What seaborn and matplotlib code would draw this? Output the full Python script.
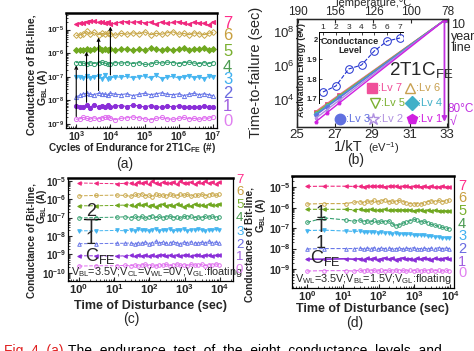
import numpy as np
import pandas as pd
import matplotlib
matplotlib.use("Agg")
import matplotlib.pyplot as plt
import seaborn as sns
from matplotlib.ticker import LogLocator, NullFormatter, FixedLocator

# ---------------- data ----------------
levels = [0, 1, 2, 3, 4, 5, 6, 7]
level_colors = ['#e070f0', '#8a2ed8', '#6a78e8', '#45b5f0', '#35a070', '#70a820', '#c9a84a', '#f0287f']
label_colors = ['#e080f0', '#a060e0', '#6a6ae0', '#40b0f0', '#4a9a50', '#7ab030', '#c8a040', '#ff2d8a']

# (a) endurance: log10(G_BL) per level vs cycles
cycles = [1e3, 1.3e3, 1.6e3, 2e3, 2.5e3, 3.2e3, 4.5e3, 5.5e3, 7e3, 8.5e3, 1e4, 1.4e4, 2e4, 3e4, 4.5e4,
          7e4, 1e5, 1.5e5, 2.2e5, 3.2e5, 4.5e5, 7e5, 1e6, 1.4e6, 2e6, 2.8e6, 4e6, 5.5e6, 7.5e6, 1e7]
endur_7 = [-4.75, -4.74, -4.72, -4.66, -4.62, -4.65, -4.70, -4.68, -4.72, -4.66, -4.76, -4.74, -4.68, -4.66, -4.70,
           -4.66, -4.72, -4.68, -4.78, -4.66, -4.74, -4.70, -4.66, -4.72, -4.78, -4.68, -4.72, -4.74, -4.80, -4.66]
endur_6 = [-5.25, -5.22, -5.18, -5.08, -5.20, -5.12, -5.22, -5.16, -5.20, -5.14, -5.18, -5.24, -5.16, -5.20, -5.14,
           -5.18, -5.10, -5.22, -5.16, -5.20, -5.14, -5.10, -5.20, -5.16, -5.22, -5.14, -5.18, -5.22, -5.16, -5.12]
endur_5 = [-5.88, -5.86, -5.85, -5.82, -5.86, -5.84, -5.80, -5.86, -5.82, -5.88, -5.84, -5.86, -5.84, -5.82, -5.86,
           -5.84, -5.86, -5.80, -5.84, -5.86, -5.82, -5.86, -5.84, -5.80, -5.86, -5.82, -5.84, -5.80, -5.86, -5.82]
endur_4 = [-6.40, -6.40, -6.42, -6.46, -6.40, -6.44, -6.40, -6.38, -6.42, -6.48, -6.44, -6.40, -6.42, -6.40, -6.44,
           -6.40, -6.48, -6.46, -6.38, -6.42, -6.38, -6.40, -6.44, -6.40, -6.38, -6.42, -6.44, -6.40, -6.44, -6.40]
endur_3 = [-7.02, -7.00, -7.04, -6.98, -7.06, -7.02, -6.96, -7.08, -6.94, -7.10, -7.04, -7.00, -7.02, -6.98, -7.04,
           -7.00, -6.96, -7.06, -6.94, -7.08, -7.02, -6.98, -7.06, -7.00, -6.96, -7.04, -7.00, -7.08, -6.98, -7.02]
endur_2 = [-7.85, -7.78, -7.72, -7.70, -7.74, -7.76, -7.70, -7.72, -7.74, -7.78, -7.70, -7.74, -7.76, -7.72, -7.80,
           -7.74, -7.70, -7.76, -7.72, -7.68, -7.74, -7.76, -7.72, -7.80, -7.74, -7.70, -7.76, -7.72, -7.76, -7.80]
endur_1 = [-8.22, -8.26, -8.28, -8.20, -8.32, -8.18, -8.28, -8.22, -8.30, -8.20, -8.26, -8.24, -8.22, -8.26, -8.20,
           -8.24, -8.28, -8.22, -8.26, -8.30, -8.24, -8.28, -8.22, -8.26, -8.30, -8.26, -8.28, -8.24, -8.28, -8.26]
endur_0 = [-8.80, -8.78, -8.72, -8.76, -8.80, -8.74, -8.78, -8.74, -8.72, -8.70, -8.74, -8.82, -8.76, -8.74, -8.70,
           -8.74, -8.78, -8.82, -8.76, -8.72, -8.78, -8.80, -8.76, -8.72, -8.78, -8.76, -8.80, -8.74, -8.76, -8.70]
endur = [endur_0, endur_1, endur_2, endur_3, endur_4, endur_5, endur_6, endur_7]
step_idx = [0, 3, 6, 10]        # cycles index where level is programmed
step_from = [0, 1, 2, 3]
step_to = [4, 5, 6, 7]

# (b) retention: log10(time-to-failure) vs 1/kT
inv_kT = [26.0, 26.6, 27.25, 32.9]
ttf_lv = [7, 6, 5, 4, 3, 2, 1]
ttf = {7: [3.32, 3.79, 4.30, 8.72], 6: [3.27, 3.74, 4.26, 8.72], 5: [3.22, 3.70, 4.22, 8.72],
       4: [3.17, 3.65, 4.18, 8.72], 3: [3.10, 3.59, 4.12, 8.72], 2: [2.92, 3.43, 3.98, 8.72],
       1: [2.72, 3.25, 3.82, 8.72]}
b_colors = {7: '#f0509a', 6: '#c8a050', 5: '#7ab030', 4: '#40b0c8', 3: '#6070e0', 2: '#b090e0', 1: '#d020e0'}
b_markers = {7: 's', 6: '^', 5: 'v', 4: 'D', 3: 'o', 2: '*', 1: 'p'}
b_filled = {7: True, 6: False, 5: False, 4: True, 3: True, 2: False, 1: True}
temps_c = [190, 156, 126, 100, 78]
ea_level = [1, 2, 3, 4, 5, 6, 7]
ea_value = [1.735, 1.765, 1.85, 1.87, 1.94, 1.99, 2.005]
k_B = 8.617e-5

# (c) disturbance V_BL=3.5V, (d) disturbance V_WL=3.5V
t_dist = [1, 3, 12, 20, 30, 38, 48, 60, 75, 95, 120, 150, 190, 240, 300, 380, 480, 600, 750, 950,
          1200, 1500, 1900, 2400, 3000, 3800, 4800, 6000, 7600, 9500]
dc_7 = [-5.12, -5.14, -5.16, -5.14, -5.10, -5.18, -5.06, -5.14, -5.08, -5.16, -5.04, -5.12, -5.18, -5.06, -5.10,
        -5.14, -5.08, -5.16, -5.04, -5.10, -5.14, -5.06, -5.18, -5.08, -5.12, -5.04, -5.14, -5.08, -5.16, -5.06]
dc_6 = [-5.82, -5.80, -5.78, -5.80, -5.84, -5.74, -5.80, -5.70, -5.82, -5.76, -5.86, -5.72, -5.80, -5.76, -5.84,
        -5.72, -5.78, -5.82, -5.70, -5.80, -5.74, -5.84, -5.76, -5.80, -5.72, -5.82, -5.76, -5.70, -5.80, -5.74]
dc_5 = [-6.36, -6.36, -6.34, -6.32, -6.30, -6.38, -6.26, -6.34, -6.28, -6.36, -6.30, -6.40, -6.32, -6.26, -6.36,
        -6.30, -6.38, -6.28, -6.34, -6.40, -6.30, -6.36, -6.26, -6.34, -6.30, -6.38, -6.28, -6.34, -6.30, -6.26]
dc_4 = [-7.02, -7.00, -6.98, -6.96, -7.00, -6.92, -7.02, -6.94, -7.04, -6.96, -6.90, -7.00, -6.94, -7.02, -6.96,
        -6.92, -7.00, -6.96, -7.04, -6.94, -6.98, -6.92, -7.00, -6.96, -7.02, -6.94, -6.98, -6.92, -7.00, -6.96]
dc_3 = [-7.72, -7.72, -7.70, -7.72, -7.68, -7.74, -7.64, -7.70, -7.66, -7.74, -7.68, -7.62, -7.72, -7.66, -7.70,
        -7.64, -7.74, -7.68, -7.70, -7.64, -7.72, -7.66, -7.70, -7.62, -7.68, -7.74, -7.66, -7.70, -7.64, -7.68]
dc_2 = [-8.42, -8.42, -8.40, -8.40, -8.38, -8.44, -8.36, -8.40, -8.32, -8.42, -8.36, -8.30, -8.38, -8.34, -8.40,
        -8.36, -8.32, -8.38, -8.42, -8.34, -8.38, -8.32, -8.36, -8.40, -8.34, -8.38, -8.30, -8.36, -8.34, -8.38]
dc_1 = [-9.08, -9.08, -9.10, -9.08, -9.06, -9.10, -9.04, -9.08, -9.06, -9.10, -9.04, -9.08, -9.06, -9.02, -9.08,
        -9.06, -9.10, -9.04, -9.08, -9.06, -9.02, -9.08, -9.06, -9.04, -9.08, -9.04, -9.06, -9.08, -9.04, -9.06]
dc_0 = [-9.64, -9.62, -9.62, -9.60, -9.62, -9.56, -9.64, -9.58, -9.54, -9.62, -9.58, -9.64, -9.56, -9.60, -9.54,
        -9.62, -9.58, -9.52, -9.60, -9.56, -9.62, -9.54, -9.58, -9.60, -9.54, -9.62, -9.56, -9.58, -9.52, -9.58]
dist_c = [dc_0, dc_1, dc_2, dc_3, dc_4, dc_5, dc_6, dc_7]

dd_7 = [-4.96, -4.95, -4.95, -4.96, -4.95, -4.97, -4.95, -4.96, -4.94, -4.96, -4.95, -4.97, -4.95, -4.96, -4.95,
        -4.97, -4.96, -4.95, -4.97, -4.96, -4.95, -4.97, -4.96, -4.98, -4.96, -4.97, -4.98, -4.96, -4.98, -4.97]
dd_6 = [-5.82, -5.80, -5.80, -5.74, -5.70, -5.76, -5.66, -5.74, -5.64, -5.72, -5.68, -5.60, -5.72, -5.66, -5.74,
        -5.64, -5.70, -5.76, -5.80, -5.82, -5.80, -5.82, -5.78, -5.70, -5.66, -5.72, -5.64, -5.70, -5.66, -5.62]
dd_5 = [-6.08, -6.08, -6.08, -6.10, -6.08, -6.10, -6.12, -6.08, -6.10, -6.12, -6.10, -6.08, -6.12, -6.10, -6.10,
        -6.12, -6.10, -6.12, -6.10, -6.14, -6.12, -6.12, -6.14, -6.12, -6.14, -6.12, -6.14, -6.16, -6.14, -6.16]
dd_4 = [-6.72, -6.50, -6.60, -6.66, -6.60, -6.68, -6.64, -6.70, -6.62, -6.72, -6.66, -6.70, -6.64, -6.78, -6.90,
        -6.84, -6.76, -6.70, -6.64, -6.56, -6.62, -6.70, -6.66, -6.74, -6.82, -6.86, -6.92, -6.96, -7.00, -7.02]
dd_3 = [-7.12, -7.10, -7.14, -7.16, -7.15, -7.19, -7.17, -7.21, -7.19, -7.23, -7.21, -7.25, -7.23, -7.27, -7.25,
        -7.29, -7.27, -7.31, -7.29, -7.33, -7.33, -7.35, -7.35, -7.39, -7.39, -7.43, -7.43, -7.47, -7.47, -7.50]
dd_2 = [-8.02, -8.00, -8.00, -8.00, -7.98, -8.02, -7.98, -8.00, -7.96, -8.02, -7.98, -8.00, -7.96, -8.02, -8.00,
        -7.98, -8.02, -7.98, -8.00, -7.96, -8.02, -8.00, -7.98, -8.02, -7.98, -8.00, -7.96, -8.00, -7.98, -8.00]
dd_1 = [-8.52, -8.52, -8.50, -8.52, -8.50, -8.54, -8.48, -8.52, -8.48, -8.54, -8.50, -8.46, -8.52, -8.48, -8.54,
        -8.50, -8.46, -8.52, -8.50, -8.54, -8.48, -8.52, -8.46, -8.50, -8.54, -8.48, -8.52, -8.50, -8.46, -8.52]
dd_0 = [-9.10, -9.08, -9.08, -9.10, -9.06, -9.10, -9.04, -9.08, -9.06, -9.10, -9.04, -9.08, -9.06, -9.10, -9.04,
        -9.08, -9.06, -9.10, -9.06, -9.08, -9.04, -9.10, -9.06, -9.08, -9.04, -9.08, -9.06, -9.10, -9.06, -9.08]
dist_d = [dd_0, dd_1, dd_2, dd_3, dd_4, dd_5, dd_6, dd_7]

# marker styles per level (0..7)
a_markers = ['o', 'o', '^', 'v', 'o', 'D', 'D', '<']
a_filled = [False, True, False, True, False, True, False, True]
cd_markers = ['o', '<', '^', 'v', 'o', '<', 'o', '<']
cd_filled = [False, True, False, True, False, True, False, True]
d_linestyles = ['--', '-', '--', '--', '--', '--', '--', '--']

# ---------------- style ----------------
sns.set_theme(style="ticks")
plt.rcParams['font.family'] = ['Liberation Sans', 'DejaVu Sans']
plt.rcParams['mathtext.fontset'] = 'custom'
plt.rcParams['mathtext.rm'] = 'Liberation Sans'
plt.rcParams['mathtext.default'] = 'regular'
plt.rcParams['xtick.direction'] = 'in'
plt.rcParams['ytick.direction'] = 'in'
plt.rcParams['axes.linewidth'] = 0.9

W, H = 474, 351
fig = plt.figure(figsize=(W / 100, H / 100), dpi=100)
fig.patch.set_facecolor('white')


def px_axes(l, t, r, b):
    return fig.add_axes([l / W, 1 - b / H, (r - l) / W, (b - t) / H])


def ftext(x, y, s, **kw):
    return fig.text(x / W, 1 - y / H, s, **kw)


def series(ax, x, y, color, marker, filled, ls='-', ms=3.0, lw=0.8):
    sns.lineplot(x=x, y=y, ax=ax, color=color, linestyle=ls, lw=lw, marker=marker, markersize=ms,
                 markerfacecolor=color if filled else 'none', markeredgecolor=color,
                 markeredgewidth=0.7, estimator=None, sort=False)


def log_axes(ax, xl, yl, xt, yt, xfs, yfs):
    ax.set_xscale('log')
    ax.set_yscale('log')
    ax.set_xlim(10.0 ** xl[0], 10.0 ** xl[1])
    ax.set_ylim(10.0 ** yl[0], 10.0 ** yl[1])
    ax.xaxis.set_major_locator(FixedLocator([10.0 ** e for e in xt]))
    ax.yaxis.set_major_locator(FixedLocator([10.0 ** e for e in yt]))
    ax.xaxis.set_minor_locator(LogLocator(base=10, subs=np.arange(2, 10), numticks=30))
    ax.yaxis.set_minor_locator(LogLocator(base=10, subs=np.arange(2, 10), numticks=30))
    ax.xaxis.set_minor_formatter(NullFormatter())
    ax.yaxis.set_minor_formatter(NullFormatter())
    ax.set_xticklabels([f'10$^{{{e}}}$' for e in xt], fontsize=xfs, fontweight='bold')
    ax.set_yticklabels([f'10$^{{{e}}}$' for e in yt], fontsize=yfs, fontweight='bold')
    ax.tick_params(which='major', length=3, width=0.8, pad=1.2)
    ax.tick_params(which='minor', length=1.5, width=0.6)
    ax.spines['top'].set_linewidth(1.8)
    for s in ['left', 'right', 'bottom', 'top']:
        ax.spines[s].set_color('black')


def level_labels(x, ys, fs):
    for lv, y in zip(levels, ys):
        ftext(x, y, str(lv), color=label_colors[lv], fontsize=fs, ha='left', va='center')


# ---------------- (a) ----------------
axa = px_axes(66, 13, 217, 128)
for lv in levels:
    series(axa, cycles, 10.0 ** np.array(endur[lv]), level_colors[lv], a_markers[lv], a_filled[lv], ms=3.0)
for i, f, t in zip(step_idx, step_from, step_to):
    axa.annotate('', xy=(cycles[i], 10.0 ** endur[t][i]), xytext=(cycles[i], 10.0 ** endur[f][i]),
                 arrowprops=dict(arrowstyle='->', color='black', lw=0.8, mutation_scale=5))
log_axes(axa, (2.7, 7.12), (-9.17, -4.3), [3, 4, 5, 6, 7], [-9, -8, -7, -6, -5], 7.5, 5.8)
axa.tick_params(axis='x', which='major', pad=0.8)
level_labels(223, [121, 107, 94, 80, 67, 52, 35, 23], 12)
ftext(32, 75, 'Conductance of Bit-line,', rotation=90, fontsize=7.6, fontweight='bold', ha='center', va='center')
ftext(43, 87, 'G$_{BL}$ (A)', rotation=90, fontsize=7.6, fontweight='bold', ha='center', va='center')
ftext(132, 148, 'Cycles of Endurance for 2T1C$_{FE}$ (#)', fontsize=7.2, fontweight='bold', ha='center', va='center')
ftext(125, 164, '(a)', fontsize=10, ha='center', va='center')

# ---------------- (b) ----------------
axb = px_axes(297, 19, 448, 127)
for lv in ttf_lv:
    series(axb, inv_kT, 10.0 ** np.array(ttf[lv]), b_colors[lv], b_markers[lv], b_filled[lv], ms=2.5, lw=1.0)
axb.set_yscale('log')
axb.set_xlim(25.1, 33.05)
axb.set_ylim(10 ** 2.41, 10 ** 8.76)
axb.set_xticks([25, 27, 29, 31, 33])
axb.set_xticklabels(['25', '27', '29', '31', '33'], fontsize=9.5)
axb.yaxis.set_major_locator(FixedLocator([1e4, 1e6, 1e8]))
axb.yaxis.set_minor_locator(FixedLocator([]))
axb.set_yticklabels(['10$^{4}$', '10$^{6}$', '10$^{8}$'], fontsize=9.5)
axb.tick_params(which='major', length=3, width=0.8, pad=1.5)
for s in ['left', 'right', 'bottom', 'top']:
    axb.spines[s].set_color('black')
# top temperature axis
axt = axb.twiny()
axt.set_xlim(axb.get_xlim())
axt.set_xticks([1.0 / (k_B * (T + 273.15)) for T in temps_c])
axt.set_xticklabels([str(T) for T in temps_c], fontsize=8.5)
axt.tick_params(length=3, width=0.8, pad=0.5)
axt.grid(False)
ftext(373, 3, 'Temperature,°C', fontsize=8, ha='center', va='center')
# 80C arrow
x80 = 1.0 / (k_B * (80 + 273.15))
axb.annotate('', xy=(x80, 10 ** 2.55), xytext=(x80, 10 ** 8.74),
             arrowprops=dict(arrowstyle='-|>', color='#c030e0', lw=1.3, mutation_scale=7))
axb.text(1.0, 0.17, '80°C', transform=axb.transAxes, color='#c030e0', fontsize=8.5, ha='left', va='center',
         clip_on=False)
axb.text(1.01, 0.05, '√', transform=axb.transAxes, color='#c030e0', fontsize=9, ha='left', va='center',
         clip_on=False)
ftext(451, 19, '10\nyear\nline', fontsize=9, ha='left', va='top', linespacing=0.95)
ftext(256, 72, 'Time-to-failure (sec)', rotation=90, fontsize=10.5, ha='center', va='center')
ftext(348, 147, '1/kT', fontsize=10.5, ha='center', va='center')
ftext(384, 148, '(eV$^{-1}$)', fontsize=8, ha='center', va='center')
ftext(356, 160, '(b)', fontsize=10, ha='center', va='center')
ftext(389, 70, '2T1C$_{FE}$', fontsize=13.5, ha='left', va='center')
# legend entries
leg_pos = {7: (0.497, 0.362), 6: (0.748, 0.362), 5: (0.517, 0.222), 4: (0.762, 0.222),
           3: (0.285, 0.074), 2: (0.503, 0.074), 1: (0.762, 0.074)}
for lv, (lx, ly) in leg_pos.items():
    c = b_colors[lv]
    axb.plot([lx], [ly], marker=b_markers[lv], ms=7.5 if lv != 2 else 9, transform=axb.transAxes,
             color=c, markerfacecolor=c if b_filled[lv] else 'none', markeredgecolor=c, markeredgewidth=1.0,
             linestyle='none', clip_on=False)
    axb.text(lx + 0.04, ly, f':Lv {lv}', transform=axb.transAxes, color=c, fontsize=8, ha='left', va='center')
# inset
axi = px_axes(319, 32, 403, 103)
axi.patch.set_alpha(0)
series(axi, ea_level, ea_value, '#2030d0', 'o', False, ls='--', ms=5.5, lw=0.8)
axi.set_xlim(0.69, 7.23)
axi.set_ylim(1.68, 2.035)
axi.xaxis.tick_top()
axi.set_xticks(ea_level)
axi.set_xticklabels([str(v) for v in ea_level], fontsize=6)
axi.set_yticks([1.7, 1.8, 1.9, 2.0])
axi.set_yticklabels(['1.7', '1.8', '1.9', '2'], fontsize=5.5, fontweight='bold')
axi.tick_params(length=2, width=0.6, pad=1)
axi.spines['bottom'].set_visible(False)
axi.spines['right'].set_visible(False)
for s in ['left', 'top']:
    axi.spines[s].set_color('black')
    axi.spines[s].set_linewidth(0.7)
ftext(302, 70, 'Activation Energy (eV)', rotation=90, fontsize=6.3, fontweight='bold', ha='center', va='center')
ftext(350, 46, 'Conductance\nLevel', fontsize=6.6, fontweight='bold', ha='center', va='center', linespacing=1.0)

# ---------------- (c) ----------------
axc = px_axes(68, 178, 233, 281)
for lv in levels:
    series(axc, t_dist, 10.0 ** np.array(dist_c[lv]), level_colors[lv], cd_markers[lv], cd_filled[lv],
           ls='--', ms=2.6, lw=0.7)
log_axes(axc, (-0.31, 4.37), (-10.45, -4.85), [0, 1, 2, 3, 4], [-10, -9, -8, -7, -6, -5], 8.2, 7.0)
axc.tick_params(axis='x', which='major', pad=0.8)
level_labels(236, [270, 257, 245, 232, 218, 205, 192, 180], 9.5)
axc.text(0.02, 0.015, 'V$_{BL}$=3.5V;V$_{CL}$=V$_{WL}$=0V;V$_{GL}$:floating', transform=axc.transAxes,
         fontsize=7.8, ha='left', va='bottom')
ftext(31, 241, 'Conductance of Bit-line,', rotation=90, fontsize=7.2, fontweight='bold', ha='center', va='center')
ftext(42, 206, 'G$_{BL}$ (A)', rotation=90, fontsize=7.2, fontweight='bold', ha='center', va='center')
ftext(150, 306, 'Time of Disturbance (sec)', fontsize=9, fontweight='bold', ha='center', va='center')
ftext(131, 319, '(c)', fontsize=10, ha='center', va='center')
ftext(91, 212, '2', fontsize=13, ha='center', va='center')
fig.add_artist(plt.Line2D([84 / W, 100 / W], [1 - 219 / H, 1 - 219 / H], color='black', lw=1.0))
ftext(91, 227, 'T', fontsize=13, ha='center', va='center')
ftext(91, 240, '1', fontsize=13, ha='center', va='center')
ftext(85, 256, 'C$_{FE}$', fontsize=13, ha='left', va='center')

# ---------------- (d) ----------------
axd = px_axes(292, 176, 454, 288)
for lv in levels:
    series(axd, t_dist, 10.0 ** np.array(dist_d[lv]), level_colors[lv], cd_markers[lv], cd_filled[lv],
           ls=d_linestyles[lv], ms=2.6, lw=0.8 if lv != 1 else 1.2)
log_axes(axd, (-0.42, 4.11), (-9.93, -4.45), [0, 1, 2, 3, 4], [-9, -8, -7, -6, -5], 8.0, 7.5)
axd.tick_params(axis='x', which='major', pad=0.8)
level_labels(458, [273, 262, 249, 236, 224, 211, 198, 186], 10.5)
axd.text(0.02, 0.02, 'V$_{WL}$=3.5V;V$_{BL}$=1.5V;V$_{GL}$:floating', transform=axd.transAxes,
         fontsize=7.8, ha='left', va='bottom')
ftext(249, 245, 'Conductance of Bit-line,', rotation=90, fontsize=7.2, fontweight='bold', ha='center', va='center')
ftext(261, 215, 'G$_{BL}$ (A)', rotation=90, fontsize=7.2, fontweight='bold', ha='center', va='center')
ftext(373, 309, 'Time of Disturbance (sec)', fontsize=9, fontweight='bold', ha='center', va='center')
ftext(355, 323, '(d)', fontsize=10, ha='center', va='center')
ftext(321, 214, '1', fontsize=13, ha='center', va='center')
ftext(321, 228, 'T', fontsize=13, ha='center', va='center')
ftext(321, 244, '1', fontsize=13, ha='center', va='center')
ftext(310, 258, 'C$_{FE}$', fontsize=13, ha='left', va='center')

# ---------------- caption (cut off at bottom) ----------------
ftext(64, 344, 'Fig. 4. (a)', fontsize=10, color='#e02020', ha='right', va='top')
ftext(68, 344, 'The  endurance  test  of  the  eight  conductance  levels  and', fontsize=10, color='black',
      ha='left', va='top')

fig.savefig('out.png', dpi=100, facecolor='white')
